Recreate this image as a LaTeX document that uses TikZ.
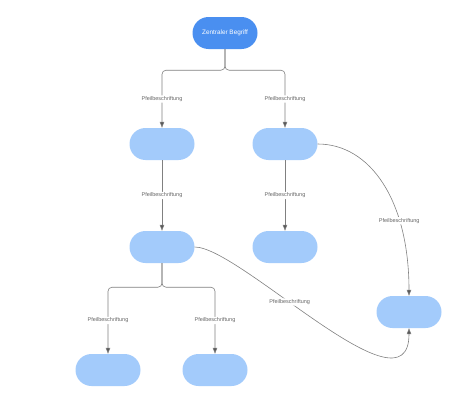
\documentclass[tikz,border=0pt]{standalone}
\usepackage{fontspec}
\setmainfont{Liberation Sans}
\usetikzlibrary{arrows.meta}
\definecolor{darkblue}{HTML}{4A8FF0}
\definecolor{lightblue}{HTML}{A3CBFB}
\definecolor{linegray}{HTML}{808080}
\definecolor{lblgray}{HTML}{666666}
\tikzset{
  mainbox/.style={fill=darkblue, draw=none, rounded corners=16pt, minimum width=65pt, minimum height=32pt, inner sep=0pt, text=white, font=\fontsize{6.4pt}{7pt}\selectfont},
  subbox/.style={fill=lightblue, draw=none, rounded corners=16pt, minimum width=65pt, minimum height=32pt, inner sep=0pt},
  conn/.style={draw=linegray, line width=0.6pt, -{Triangle[length=6pt,width=4.5pt,fill=black!65]}, rounded corners=4pt},
  lbl/.style={fill=white, text=lblgray, font=\fontsize{5.5pt}{6pt}\selectfont, inner sep=1pt}
}
\begin{document}
\begin{tikzpicture}[x=1pt,y=-1pt]
\useasboundingbox (0,0) rectangle (474,415);
\node[mainbox] (top) at (225,33) {Zentraler Begriff};
\node[subbox] (l2a) at (162,144) {};
\node[subbox] (l2b) at (285,144) {};
\node[subbox] (l3a) at (162,247) {};
\node[subbox] (l3b) at (285,247) {};
\node[subbox] (rn) at (409,312) {};
\node[subbox] (b1) at (108,370) {};
\node[subbox] (b2) at (215,370) {};
\draw[conn] (top.south) -- ++(0,21) -| node[lbl,pos=0.75] {Pfeilbeschriftung} (l2a.north);
\draw[conn] (top.south) -- ++(0,21) -| node[lbl,pos=0.75] {Pfeilbeschriftung} (l2b.north);
\draw[conn] (l2a.south) -- node[lbl] {Pfeilbeschriftung} (l3a.north);
\draw[conn] (l2b.south) -- node[lbl] {Pfeilbeschriftung} (l3b.north);
\draw[conn] (l3a.south) -- ++(0,24) -| node[lbl,pos=0.75] {Pfeilbeschriftung} (b1.north);
\draw[conn] (l3a.south) -- ++(0,24) -| node[lbl,pos=0.75] {Pfeilbeschriftung} (b2.north);
\draw[conn] (l2b.east) .. controls (370,144) and (409,200) .. node[lbl,pos=0.7] {Pfeilbeschriftung} (rn.north);
\draw[conn] (l3a.east) .. controls (240,247) and (409,420) .. node[lbl,pos=0.40] {Pfeilbeschriftung} (rn.south);
\end{tikzpicture}
\end{document}
